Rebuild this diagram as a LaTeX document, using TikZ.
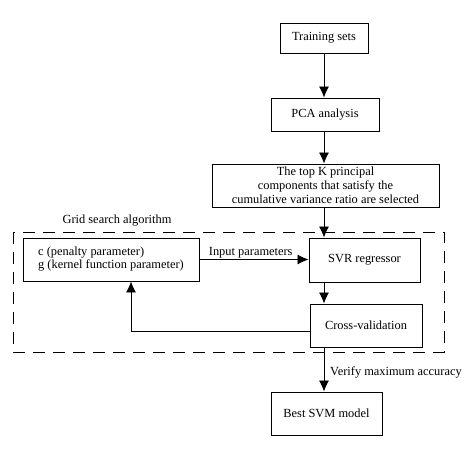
\documentclass[tikz,border=0pt]{standalone}
\usepackage{fontspec}
\setmainfont{Liberation Serif}
\usetikzlibrary{arrows.meta}
\begin{document}
\begin{tikzpicture}[x=1pt,y=-1pt,
  every node/.style={font=\fontsize{12.4}{14}\selectfont},
  box/.style={draw,line width=0.9pt,inner sep=0pt,align=center},
  arr/.style={-{Latex[length=11pt,width=10pt]},line width=0.8pt},
  lbl/.style={inner sep=1pt}]
\useasboundingbox (0,0) rectangle (474,474);
\coordinate (ax) at (324,0);
\node[box,minimum width=88pt,minimum height=30pt] (train) at (324,38) {Training sets};
\node[box,minimum width=108pt,minimum height=33pt] (pca) at (325,114.5) {PCA analysis};
\node[box,minimum width=227pt,minimum height=43pt] (topk) at (325.5,185.5) {The top K principal\\components that satisfy the\\cumulative variance ratio are selected};
\node[box,minimum width=176pt,minimum height=43pt,align=left,font=\fontsize{12.4}{13}\selectfont] (cbox) at (111,259.5) {c (penalty parameter)\\g (kernel function parameter)};
\node[box,minimum width=111pt,minimum height=44pt] (svr) at (364.5,260) {SVR regressor};
\node[box,minimum width=112pt,minimum height=43pt] (cv) at (366,325.5) {Cross-validation};
\node[box,minimum width=111pt,minimum height=43pt] (best) at (326.5,413.5) {Best SVM model};
\node[lbl] (grid) at (117,221) {Grid search algorithm};
\draw[line width=0.9pt,dash pattern=on 12pt off 8pt] (13,232) rectangle (444,352);
\draw[arr] (train.south -| ax) -- (pca.north -| ax);
\draw[arr] (pca.south -| ax) -- (topk.north -| ax);
\draw[arr] (topk.south -| ax) -- (svr.north -| ax);
\draw[arr] (cbox.east) -- node[lbl,above,pos=0.47] (inp) {Input parameters} (cbox.east -| svr.west);
\draw[arr] (svr.south -| ax) -- (cv.north -| ax);
\coordinate (turn) at (131,331);
\draw[arr] (cv.west |- turn) -- (turn) -- (turn |- cbox.south);
\draw[arr] (cv.south -| ax) -- (best.north -| ax);
\node[lbl,anchor=west] (ver) at (329,372) {Verify maximum accuracy};
\end{tikzpicture}
\end{document}
